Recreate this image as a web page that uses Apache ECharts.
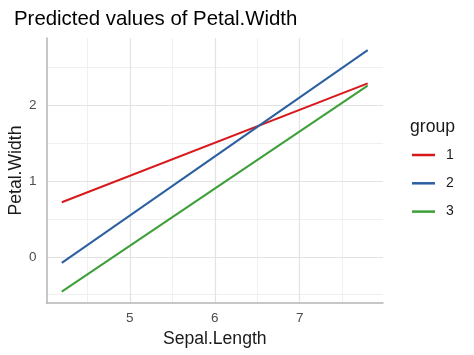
<!DOCTYPE html>
<html>
<head>
<meta charset="utf-8">
<script src="https://cdn.jsdelivr.net/npm/echarts@6/dist/echarts.min.js"></script>
<style>
html,body{margin:0;padding:0;background:#fff;}
#chart{width:474px;height:355px;}
</style>
</head>
<body>
<div id="chart"></div>
<script>
// Data
const xValues = [4.2, 7.8];
const group1 = [0.72, 2.29];
const group2 = [-0.08, 2.73];
const group3 = [-0.46, 2.26];
const groupNames = ['1', '2', '3'];
const xTickLabels = [5, 6, 7];
const yTickLabels = [0, 1, 2];
const xMajorGrid = [5, 6, 7];
const xMinorGrid = [4.5, 5.5, 6.5, 7.5];
const yMajorGrid = [0, 1, 2];
const yMinorGrid = [-0.5, 0.5, 1.5, 2.5];

const colors = ['#d7191c', '#2b5fa0', '#3d9f38'];
const FONT = '"Liberation Sans", Arial, sans-serif';

const chart = echarts.init(document.getElementById('chart'), null, {renderer: 'canvas'});

function pairs(ys) { return xValues.map((x, i) => [x, ys[i]]); }

const gridLines = [];
xMinorGrid.forEach(v => gridLines.push({xAxis: v, lineStyle: {color: '#f0f0f0', width: 1, type: 'solid'}}));
yMinorGrid.forEach(v => gridLines.push({yAxis: v, lineStyle: {color: '#f0f0f0', width: 1, type: 'solid'}}));
xMajorGrid.forEach(v => gridLines.push({xAxis: v, lineStyle: {color: '#e3e3e3', width: 1.2, type: 'solid'}}));
yMajorGrid.forEach(v => gridLines.push({yAxis: v, lineStyle: {color: '#e3e3e3', width: 1.2, type: 'solid'}}));

const option = {
  animation: false,
  backgroundColor: '#ffffff',
  title: {
    text: 'Predicted values of Petal.Width',
    left: 9, top: 4,
    textStyle: {fontFamily: FONT, fontSize: 20.4, fontWeight: 'normal', color: '#000'}
  },
  grid: {left: 46.5, right: 91, top: 38, bottom: 52, containLabel: false, outerBoundsMode: 'none'},
  legend: {
    orient: 'vertical',
    left: 412, top: 147,
    padding: 0,
    icon: 'rect',
    itemWidth: 23, itemHeight: 2.5,
    itemGap: 12.3,
    data: groupNames,
    textStyle: {fontFamily: FONT, fontSize: 14, color: '#1a1a1a', padding: [0, 0, 0, 6], lineHeight: 16}
  },
  graphic: [{
    type: 'text', left: 410, top: 118,
    style: {text: 'group', fontFamily: FONT, fontSize: 17.6, fill: '#1a1a1a'}
  }],
  xAxis: {
    type: 'value', min: 4.02, max: 7.98,
    name: 'Sepal.Length', nameLocation: 'middle', nameGap: 27, nameMoveOverlap: false,
    nameTextStyle: {fontFamily: FONT, fontSize: 17.6, color: '#1a1a1a'},
    axisLine: {show: true, onZero: false, lineStyle: {color: '#b5b5b5', width: 1.5}},
    axisTick: {show: false},
    splitLine: {show: false},
    axisLabel: {customValues: xTickLabels, fontFamily: FONT, fontSize: 13.5, color: '#4d4d4d', margin: 8}
  },
  yAxis: {
    type: 'value', min: -0.61, max: 2.89,
    name: 'Petal.Width', nameLocation: 'middle', nameGap: 21.5, nameRotate: 90, nameMoveOverlap: false,
    nameTextStyle: {fontFamily: FONT, fontSize: 17.6, color: '#1a1a1a'},
    axisLine: {show: true, onZero: false, lineStyle: {color: '#b5b5b5', width: 1.5}},
    axisTick: {show: false},
    splitLine: {show: false},
    axisLabel: {customValues: yTickLabels, fontFamily: FONT, fontSize: 13.5, color: '#4d4d4d', margin: 10}
  },
  series: [
    {
      type: 'line', name: '__grid', data: [], silent: true, z: 0,
      markLine: {silent: true, z: 0, symbol: 'none', label: {show: false}, data: gridLines, animation: false}
    },
    {type: 'line', name: groupNames[0], data: pairs(group1), showSymbol: false, symbol: 'none',
     lineStyle: {color: colors[0], width: 2}, itemStyle: {color: colors[0]}, z: 3},
    {type: 'line', name: groupNames[1], data: pairs(group2), showSymbol: false, symbol: 'none',
     lineStyle: {color: colors[1], width: 2}, itemStyle: {color: colors[1]}, z: 3},
    {type: 'line', name: groupNames[2], data: pairs(group3), showSymbol: false, symbol: 'none',
     lineStyle: {color: colors[2], width: 2}, itemStyle: {color: colors[2]}, z: 3}
  ]
};
chart.setOption(option);
</script>
</body>
</html>
